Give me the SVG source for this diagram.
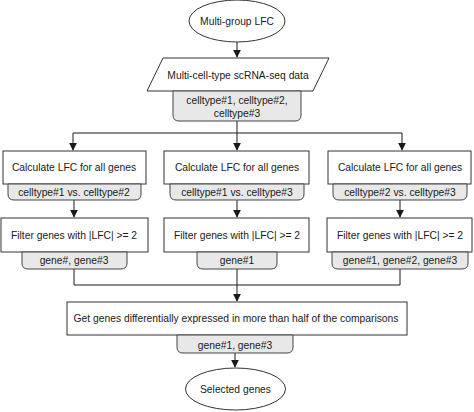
<svg xmlns="http://www.w3.org/2000/svg" width="474" height="412" viewBox="0 0 474 412">
<defs>
<style>
text{font-family:"Liberation Sans",Arial,sans-serif;font-size:10.3px;fill:#1a1a1a;text-anchor:middle;dominant-baseline:central}
.box{fill:#fff;stroke:#333;stroke-width:1}
.tag{fill:#e8e8e8;stroke:#444;stroke-width:1}
.ln{fill:none;stroke:#1a1a1a;stroke-width:1}
</style>
<marker id="ah" viewBox="0 0 10 10" refX="9" refY="5" markerWidth="8" markerHeight="8" markerUnits="userSpaceOnUse" orient="auto">
<path d="M0,0 L10,5 L0,10 z" fill="#1a1a1a"/>
</marker>
</defs>
<rect width="474" height="412" fill="#fff"/>
<g id="connectors">
<path class="ln" d="M237,42 V57" marker-end="url(#ah)"/>
<path class="ln" d="M237,121 V133 M73,133 H402"/>
<path class="ln" d="M73,133 V150" marker-end="url(#ah)"/>
<path class="ln" d="M237,133 V150" marker-end="url(#ah)"/>
<path class="ln" d="M402,133 V150" marker-end="url(#ah)"/>
<path class="ln" d="M74,200 V217" marker-end="url(#ah)"/>
<path class="ln" d="M237,200 V217" marker-end="url(#ah)"/>
<path class="ln" d="M400,200 V217" marker-end="url(#ah)"/>
<path class="ln" d="M74,269 V285 H400 V269"/>
<path class="ln" d="M237,269 V301" marker-end="url(#ah)"/>
<path class="ln" d="M235,353 V367" marker-end="url(#ah)"/>
</g>
<g id="start">
<ellipse class="box" cx="237" cy="21" rx="48" ry="21"/>
<text x="237" y="21">Multi-group LFC</text>
</g>
<g id="data">
<path class="box" d="M163,58 H329 L313,91 H147 Z"/>
<text x="238" y="75">Multi-cell-type scRNA-seq data</text>
<path class="tag" d="M173,91 H301 V115 Q301,121 295,121 H179 Q173,121 173,115 Z"/>
<text x="237" y="100">celltype#1, celltype#2,</text>
<text x="237" y="113">celltype#3</text>
</g>
<g id="calc1">
<rect class="box" x="3" y="151" width="143" height="33"/>
<text x="74" y="167">Calculate LFC for all genes</text>
<path class="tag" d="M8,184 H141 V194 Q141,200 135,200 H14 Q8,200 8,194 Z"/>
<text x="74" y="192">celltype#1 vs. celltype#2</text>
</g>
<g id="calc2">
<rect class="box" x="164" y="151" width="145" height="33"/>
<text x="237" y="167">Calculate LFC for all genes</text>
<path class="tag" d="M170,184 H304 V194 Q304,200 298,200 H176 Q170,200 170,194 Z"/>
<text x="237" y="192">celltype#1 vs. celltype#3</text>
</g>
<g id="calc3">
<rect class="box" x="328" y="151" width="143" height="33"/>
<text x="400" y="167">Calculate LFC for all genes</text>
<path class="tag" d="M333,184 H467 V194 Q467,200 461,200 H339 Q333,200 333,194 Z"/>
<text x="400" y="192">celltype#2 vs. celltype#3</text>
</g>
<g id="filter1">
<rect class="box" x="1" y="218" width="147" height="34"/>
<text x="74" y="235">Filter genes with |LFC| &gt;= 2</text>
<path class="tag" d="M22,252 H127 V263 Q127,269 121,269 H28 Q22,269 22,263 Z"/>
<text x="74" y="260">gene#, gene#3</text>
</g>
<g id="filter2">
<rect class="box" x="164" y="218" width="145" height="34"/>
<text x="237" y="235">Filter genes with |LFC| &gt;= 2</text>
<path class="tag" d="M197,252 H277 V263 Q277,269 271,269 H203 Q197,269 197,263 Z"/>
<text x="237" y="260">gene#1</text>
</g>
<g id="filter3">
<rect class="box" x="327" y="218" width="145" height="34"/>
<text x="400" y="235">Filter genes with |LFC| &gt;= 2</text>
<path class="tag" d="M332,252 H468 V263 Q468,269 462,269 H338 Q332,269 332,263 Z"/>
<text x="400" y="260">gene#1, gene#2, gene#3</text>
</g>
<g id="majority">
<rect class="box" x="67" y="302" width="340" height="33"/>
<text x="236" y="318">Get genes differentially expressed in more than half of the comparisons</text>
<path class="tag" d="M177,335 H293 V347 Q293,353 287,353 H183 Q177,353 177,347 Z"/>
<text x="235" y="345">gene#1, gene#3</text>
</g>
<g id="end">
<ellipse class="box" cx="235.5" cy="389" rx="50" ry="21"/>
<text x="235.5" y="389">Selected genes</text>
</g>
</svg>
